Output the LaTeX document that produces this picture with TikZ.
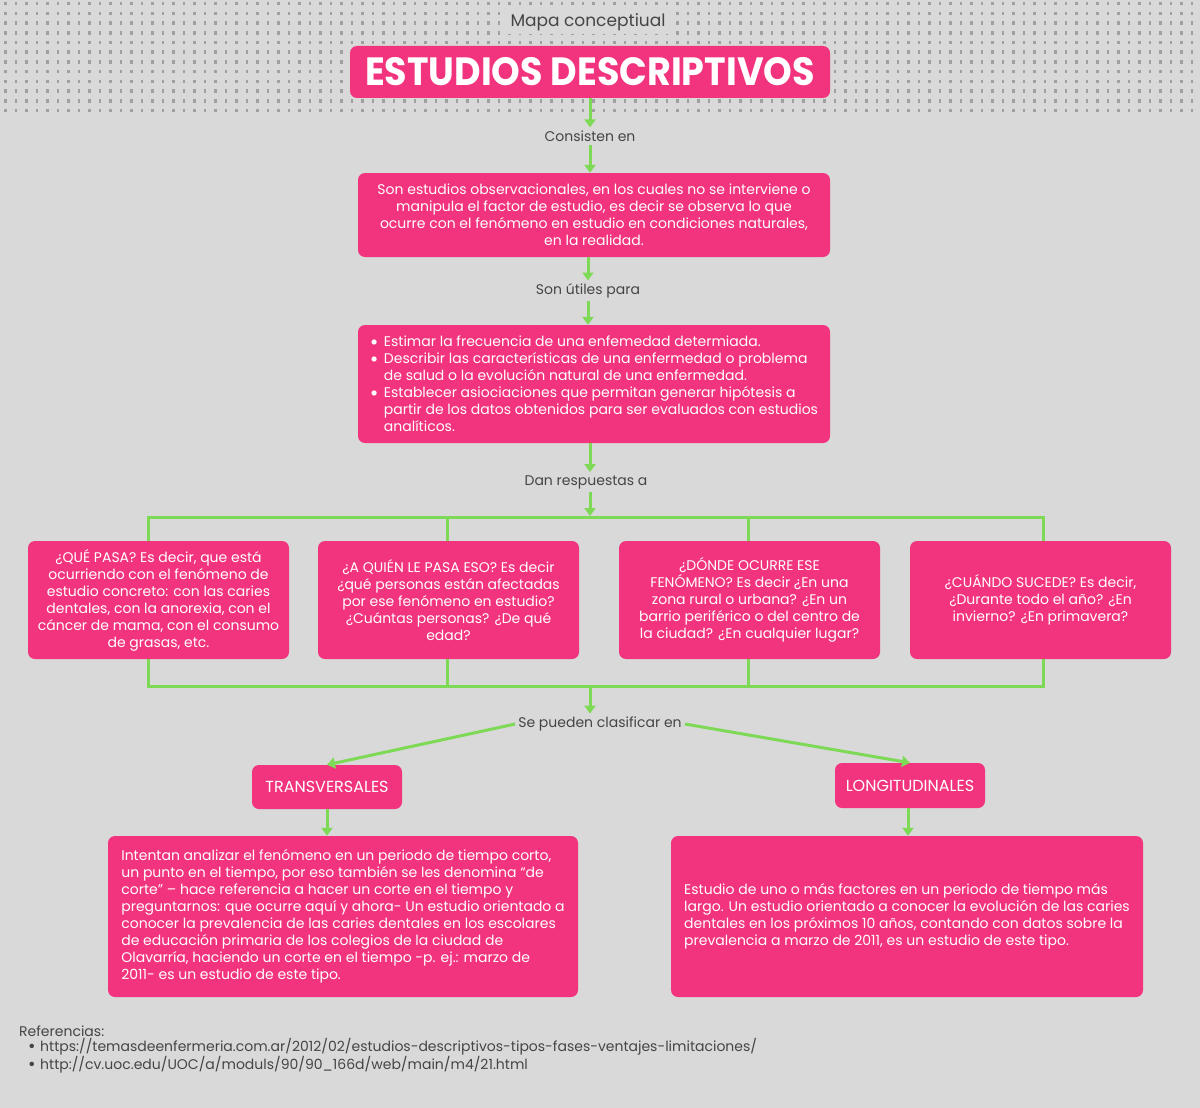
\documentclass[tikz,border=0pt]{standalone}
\usepackage{fontspec}
\setmainfont{Poppins}
\usetikzlibrary{arrows.meta}
\definecolor{bg}{HTML}{D9D9D9}
\definecolor{pinkbox}{HTML}{F2337D}
\definecolor{grn}{HTML}{7ED957}
\definecolor{txt}{HTML}{454545}
\definecolor{dotc}{HTML}{A0A0A0}
\newcommand\bul{\makebox[14pt][l]{\smash{\raisebox{-2.3pt}{\scalebox{1.5}{\textbullet}}}}}
\newcommand\ind{\hspace*{14pt}}
\newcommand\rbul{\makebox[12pt][l]{\smash{\raisebox{-1pt}{\scalebox{1.3}{\textbullet}}}}}
\begin{document}
\begin{tikzpicture}[x=1pt,y=-1pt,
  box/.style={fill=pinkbox, rounded corners=7pt, text=white, inner sep=0pt,
    font=\fontsize{14}{17}\selectfont},
  lbl/.style={text=txt, fill=bg, inner sep=3pt, font=\fontsize{14}{16}\selectfont},
  arr/.style={draw=grn, line width=3pt, -{Triangle[width=11pt,length=8pt]}},
  ln/.style={draw=grn, line width=3pt}]
\fill[bg] (0,0) rectangle (1200,1108);
\useasboundingbox (0,0) rectangle (1200,1108);
% dotted pattern
\foreach \i in {0,...,113}{
  \foreach \j in {0,...,11}{
    \fill[dotc] ({4+\i*10.5},{2+\j*9.7}) rectangle ++(2.5,3.5);
  }
}
\node[text=txt, fill=bg, inner sep=3pt, font=\fontsize{17}{19}\selectfont] (map) at (588,22) {Mapa conceptiual};
\node[box, minimum width=480pt, minimum height=52pt, font=\fontsize{36.5}{36}\bfseries] (title) at (590,72)
  {\scalebox{1}[1.08]{ESTUDIOS DESCRIPTIVOS}};

\node[lbl] (cons) at (590,136) {Consisten en};
\node[box, minimum width=472pt, minimum height=84pt, align=center] (b1) at (594,215)
 {Son estudios observacionales, en los cuales no se interviene o\\
  manipula el factor de estudio, es decir se observa lo que\\
  ocurre con el fenómeno en estudio en condiciones naturales,\\
  en la realidad.};
\node[lbl] (util) at (588,291) {Son útiles para};
\node[box, minimum width=472pt, minimum height=118pt, align=left] (b2) at (594,384)
 {\bul Estimar la frecuencia de una enfemedad determiada.\\
  \bul Describir las características de una enfermedad o problema\\
  \ind de salud o la evolución natural de una enfermedad.\\
  \bul Establecer asiociaciones que permitan generar hipótesis a\\
  \ind partir de los datos obtenidos para ser evaluados con estudios\\
  \ind analíticos.};
\node[lbl] (dan) at (586,482) {Dan respuestas a};

\node[box, minimum width=261pt, minimum height=118pt, align=center] (q1) at (158.5,600)
 {¿QUÉ PASA? Es decir, que está\\ocurriendo con el fenómeno de\\estudio concreto: con las caries\\dentales, con la anorexia, con el\\cáncer de mama, con el consumo\\de grasas, etc.};
\node[box, minimum width=261pt, minimum height=118pt, align=center] (q2) at (448.5,600)
 {¿A QUIÉN LE PASA ESO? Es decir\\¿qué personas están afectadas\\por ese fenómeno en estudio?\\¿Cuántas personas? ¿De qué\\edad?};
\node[box, minimum width=261pt, minimum height=118pt, align=center] (q3) at (749.5,600)
 {¿DÓNDE OCURRE ESE\\FENÓMENO? Es decir ¿En una\\zona rural o urbana? ¿En un\\barrio periférico o del centro de\\la ciudad? ¿En cualquier lugar?};
\node[box, minimum width=261pt, minimum height=118pt, align=center] (q4) at (1040.5,600)
 {¿CUÁNDO SUCEDE? Es decir,\\¿Durante todo el año? ¿En\\invierno? ¿En primavera?};

\node[lbl] (sep) at (600,724) {Se pueden clasificar en};
\node[box, minimum width=150pt, minimum height=44pt, font=\fontsize{16}{18}\selectfont] (trans) at (327,787) {TRANSVERSALES};
\node[box, minimum width=150pt, minimum height=45pt, font=\fontsize{16}{18}\selectfont] (long) at (910,785.5) {LONGITUDINALES};

\node[box, minimum width=470pt, minimum height=161pt, align=left] (tb) at (343,916.5)
 {Intentan analizar el fenómeno en un periodo de tiempo corto,\\
  un punto en el tiempo, por eso también se les denomina “de\\
  corte” – hace referencia a hacer un corte en el tiempo y\\
  preguntarnos: que ocurre aquí y ahora- Un estudio orientado a\\
  conocer la prevalencia de las caries dentales en los escolares\\
  de educación primaria de los colegios de la ciudad de\\
  Olavarría, haciendo un corte en el tiempo -p. ej.: marzo de\\
  2011- es un estudio de este tipo.};
\node[box, minimum width=472pt, minimum height=161pt, align=left] (lb) at (907,916.5)
 {Estudio de uno o más factores en un periodo de tiempo más\\
  largo. Un estudio orientado a conocer la evolución de las caries\\
  dentales en los próximos 10 años, contando con datos sobre la\\
  prevalencia a marzo de 2011, es un estudio de este tipo.};

\node[anchor=north west, align=left, text=txt, inner sep=0pt, font=\fontsize{14}{14.5}\selectfont] (refs) at (19,1026)
 {Referencias:\\
  \hspace*{9pt}\rbul https://temasdeenfermeria.com.ar/2012/02/estudios-descriptivos-tipos-fases-ventajes-limitaciones/\\
  \hspace*{9pt}\rbul http://cv.uoc.edu/UOC/a/moduls/90/90\_166d/web/main/m4/21.html};

% connectors
\coordinate (cx) at (590,0);
\draw[arr] (title.south) -- (cons.north);
\draw[arr] (cons.south) -- (b1.north -| cons);
\draw[arr] (b1.south -| util) -- (util.north);
\draw[arr] (util.south) -- (b2.north -| util);
\coordinate (t1) at (148,517);
\coordinate (t2) at (447,517);
\coordinate (t3) at (748,517);
\coordinate (t4) at (1043,517);
\draw[arr] (b2.south -| cx) -- (cx |- dan.north);
\draw[ln] (q1.north -| t1) -- (t1) -- (t4) -- (q4.north -| t4);
\draw[ln] (t2) -- (q2.north -| t2);
\draw[ln] (t3) -- (q3.north -| t3);
\draw[arr] (dan.south -| cx) -- ([yshift=1pt]cx |- t1);
\coordinate (u1) at (148,686);
\coordinate (u2) at (447,686);
\coordinate (u3) at (748,686);
\coordinate (u4) at (1043,686);
\draw[ln] (q1.south -| u1) -- (u1) -- (u4) -- (q4.south -| u4);
\draw[ln] (q2.south -| u2) -- (u2);
\draw[ln] (q3.south -| u3) -- (u3);
\coordinate (um) at (590,686);
\draw[arr] (um) -- (um |- sep.north);
\draw[arr] (sep.west) -- (trans.north);
\draw[arr] (sep.east) -- (long.north);
\draw[arr] (trans.south) -- (trans.south |- tb.north);
\coordinate (lx) at (908,0);
\draw[arr] (long.south -| lx) -- (lx |- lb.north);
\end{tikzpicture}
\end{document}
